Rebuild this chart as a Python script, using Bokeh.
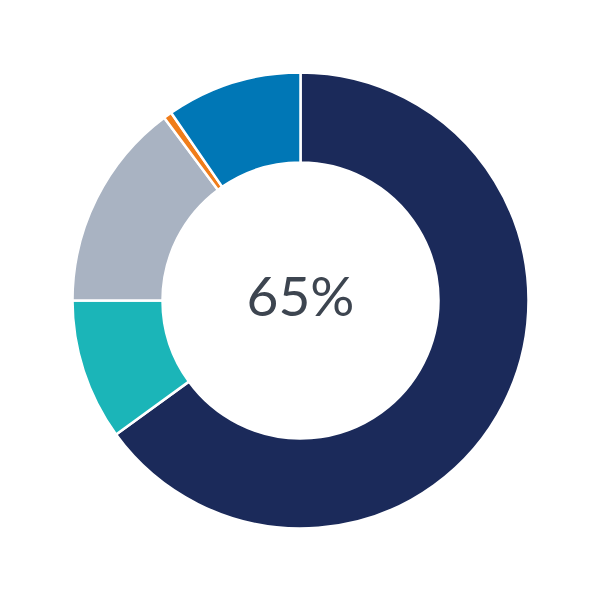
import numpy as np
from bokeh.plotting import figure
from bokeh.models import ColumnDataSource, Range1d
from bokeh.core.properties import value
from bokeh.embed import file_html
from bokeh.resources import INLINE

categories = ["A", "B", "C", "D", "E"]
shares = [65.0, 10.0, 14.8, 0.6, 9.6]
colors = ["#1b2a5a", "#1bb5b8", "#a9b3c2", "#f07d1a", "#0077b6"]
center_label = "65%"

W = 584
p = figure(width=W, height=W, output_backend="svg", toolbar_location=None,
           x_range=Range1d(-300, W - 300), y_range=Range1d(-(W - 300), 300),
           min_border=0)
p.axis.visible = False
p.grid.visible = False
p.outline_line_color = None
p.background_fill_color = "white"

vals = np.array(shares)
frac = vals / vals.sum()
cum = np.concatenate([[0], np.cumsum(frac)])
start = np.pi / 2 - cum[:-1] * 2 * np.pi
end = np.pi / 2 - cum[1:] * 2 * np.pi

src = ColumnDataSource(dict(cat=categories, start=start, end=end, color=colors))
p.annular_wedge(x=0, y=0, inner_radius=138, outer_radius=228,
                start_angle="start", end_angle="end", direction="clock",
                fill_color="color", line_color="white", line_width=2.5, source=src)

p.text(x=[0], y=[6], text=[center_label], text_align="center", text_baseline="middle",
       text_font=value("Lato"), text_font_size="55px", text_color="#3d4550")

open("out.html", "w").write(file_html(p, INLINE))
